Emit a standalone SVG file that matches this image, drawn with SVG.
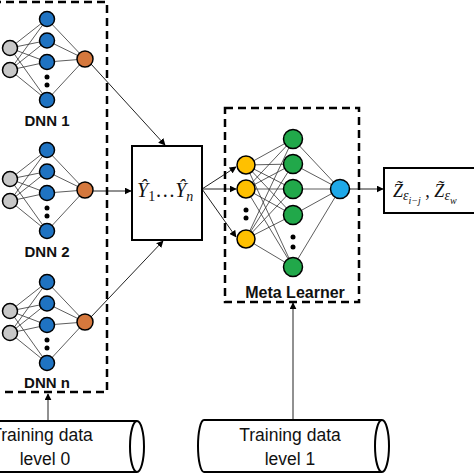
<svg xmlns="http://www.w3.org/2000/svg" width="474" height="474" viewBox="0 0 474 474">
<defs>
<style>
.dash{fill:none;stroke:#000;stroke-width:2.5;stroke-dasharray:8,5}
.ln{stroke:#333;stroke-width:0.8;fill:none}
.nd{stroke:#000;stroke-width:1.5}
.gray{fill:#c8c8c8}
.blue{fill:#1f73c2}
.orange{fill:#d5783d}
.yellow{fill:#ffc000}
.green{fill:#21a84a}
.lblue{fill:#1ea8e8}
.dot{fill:#000}
.lbl{font-family:"Liberation Sans",Arial,sans-serif;font-weight:bold;fill:#111;text-anchor:middle}
.txt{font-family:"Liberation Sans",Arial,sans-serif;fill:#111;text-anchor:middle;font-size:17.5px}
.math{font-family:"Liberation Serif","Times New Roman",serif;font-style:italic;fill:#111}
.box{fill:#fff;stroke:#000;stroke-width:2}
.arr{stroke:#222;stroke-width:1;fill:none;marker-end:url(#ah)}
.cyl{fill:#fff;stroke:#000;stroke-width:2}
</style>
<marker id="ah" viewBox="0 0 10 10" refX="9" refY="5" markerWidth="7" markerHeight="7" markerUnits="userSpaceOnUse" orient="auto">
<path d="M0,0 L10,5 L0,10 z" fill="#000"/>
</marker>
<g id="dnnProto">
<g class="ln">
<line x1="10" y1="48" x2="47" y2="19"/><line x1="10" y1="48" x2="47" y2="40.5"/><line x1="10" y1="48" x2="47" y2="62"/><line x1="10" y1="48" x2="47" y2="100"/>
<line x1="10" y1="70" x2="47" y2="19"/><line x1="10" y1="70" x2="47" y2="40.5"/><line x1="10" y1="70" x2="47" y2="62"/><line x1="10" y1="70" x2="47" y2="100"/>
<line x1="47" y1="19" x2="85" y2="59"/><line x1="47" y1="40.5" x2="85" y2="59"/><line x1="47" y1="62" x2="85" y2="59"/><line x1="47" y1="100" x2="85" y2="59"/>
</g>
<circle class="nd gray" cx="10" cy="48" r="7.5"/><circle class="nd gray" cx="10" cy="70" r="7.5"/>
<circle class="nd blue" cx="47" cy="19" r="7.5"/><circle class="nd blue" cx="47" cy="40.5" r="7.5"/><circle class="nd blue" cx="47" cy="62" r="7.5"/><circle class="nd blue" cx="47" cy="100" r="7.5"/>
<circle class="dot" cx="47" cy="77" r="2.5"/><circle class="dot" cx="47" cy="85" r="2.5"/>
<circle class="nd orange" cx="85" cy="59" r="8"/>
</g>
</defs>
<rect width="474" height="474" fill="#fff"/>

<g id="connectors">
<line class="arr" x1="91" y1="64" x2="165" y2="145"/>
<line class="arr" x1="93" y1="191" x2="131" y2="191"/>
<line class="arr" x1="91" y1="317" x2="163" y2="241"/>
<line class="arr" x1="202" y1="189" x2="236" y2="167"/>
<line class="arr" x1="202" y1="189" x2="236" y2="189"/>
<line class="arr" x1="202" y1="189" x2="236" y2="237"/>
<line class="arr" x1="350" y1="189" x2="383" y2="189"/>
<line class="arr" x1="48" y1="421" x2="48" y2="394"/>
<line class="arr" x1="293" y1="419" x2="293" y2="303"/>
</g>

<g id="base-learners">
<rect class="dash" x="-20" y="2" width="127" height="390"/>
<g id="dnn1"><use href="#dnnProto"/><text class="lbl" x="47" y="126" font-size="15">DNN 1</text></g>
<g id="dnn2"><use href="#dnnProto" transform="translate(0,131)"/><text class="lbl" x="47" y="257" font-size="15">DNN 2</text></g>
<g id="dnnn"><use href="#dnnProto" transform="translate(0,263)"/><text class="lbl" x="47" y="388" font-size="15">DNN n</text></g>
</g>

<g id="predictions">
<rect class="box" x="132" y="146" width="70" height="94"/>
<text class="math" x="137" y="197" font-size="20">Ŷ<tspan font-size="14" font-style="normal" dy="4">1</tspan><tspan dy="-4" font-style="normal">…</tspan>Ŷ<tspan font-size="14" dy="4">n</tspan></text>
</g>

<g id="meta-learner">
<rect class="dash" x="225" y="108" width="134" height="194"/>
<g class="ln">
<line x1="246" y1="165" x2="293" y2="139"/><line x1="246" y1="165" x2="293" y2="164"/><line x1="246" y1="165" x2="293" y2="189"/><line x1="246" y1="165" x2="293" y2="215"/><line x1="246" y1="165" x2="293" y2="267"/>
<line x1="246" y1="189" x2="293" y2="139"/><line x1="246" y1="189" x2="293" y2="164"/><line x1="246" y1="189" x2="293" y2="189"/><line x1="246" y1="189" x2="293" y2="215"/><line x1="246" y1="189" x2="293" y2="267"/>
<line x1="246" y1="239" x2="293" y2="139"/><line x1="246" y1="239" x2="293" y2="164"/><line x1="246" y1="239" x2="293" y2="189"/><line x1="246" y1="239" x2="293" y2="215"/><line x1="246" y1="239" x2="293" y2="267"/>
<line x1="293" y1="139" x2="340" y2="189"/><line x1="293" y1="164" x2="340" y2="189"/><line x1="293" y1="189" x2="340" y2="189"/><line x1="293" y1="215" x2="340" y2="189"/><line x1="293" y1="267" x2="340" y2="189"/>
</g>
<circle class="nd yellow" cx="246" cy="165" r="9"/><circle class="nd yellow" cx="246" cy="189" r="9"/><circle class="nd yellow" cx="246" cy="239" r="9"/>
<circle class="dot" cx="246" cy="210" r="2.5"/><circle class="dot" cx="246" cy="218" r="2.5"/>
<circle class="nd green" cx="293" cy="139" r="9.5"/><circle class="nd green" cx="293" cy="164" r="9.5"/><circle class="nd green" cx="293" cy="189" r="9.5"/><circle class="nd green" cx="293" cy="215" r="9.5"/><circle class="nd green" cx="293" cy="267" r="9.5"/>
<circle class="dot" cx="293" cy="237" r="2.5"/><circle class="dot" cx="293" cy="247" r="2.5"/>
<circle class="nd lblue" cx="340" cy="189" r="9.5"/>
<text class="lbl" x="295" y="298" font-size="16">Meta Learner</text>
</g>

<g id="output">
<rect class="box" x="384" y="168" width="110" height="45"/>
<text class="math" x="393" y="197" font-size="18">Z̃<tspan font-size="14" dy="3">ε</tspan><tspan font-size="10" dy="4">i−j</tspan><tspan dy="-7" font-style="normal"> , </tspan>Z̃<tspan font-size="14" dy="3">ε</tspan><tspan font-size="10" dy="4">w</tspan></text>
</g>

<g id="training-level0">
<path class="cyl" d="M137,421 L-10,421 L-10,472 L137,472"/>
<ellipse class="cyl" cx="137" cy="446.5" rx="7" ry="25.5"/>
<text class="txt" x="42" y="441">Training data</text>
<text class="txt" x="45" y="465">level 0</text>
</g>

<g id="training-level1">
<path class="cyl" d="M382,420 L204,420 A6,26 0 0 0 204,472 L382,472"/>
<ellipse class="cyl" cx="382" cy="446" rx="7" ry="26"/>
<text class="txt" x="290" y="441">Training data</text>
<text class="txt" x="290" y="465">level 1</text>
</g>
</svg>
